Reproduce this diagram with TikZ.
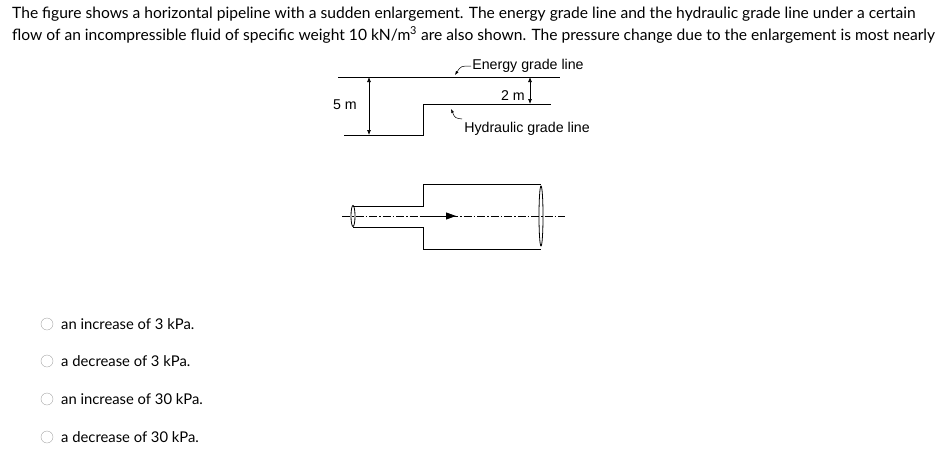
\documentclass[tikz,border=0pt]{standalone}
\usepackage{fontspec}
\setmainfont{Lato}
\newfontfamily\arialf{Liberation Sans}
\usetikzlibrary{arrows.meta}
\begin{document}
\begin{tikzpicture}[x=1pt,y=-1pt,
  qtext/.style={anchor=west,inner sep=0,font=\fontsize{15.6}{18}\selectfont},
  dtext/.style={anchor=center,inner sep=0,font=\arialf\fontsize{14.2}{16}\selectfont},
  gl/.style={line width=0.9pt},
  dim/.style={line width=0.7pt,{Latex[length=5pt,width=4pt]}-{Latex[length=5pt,width=4pt]}},
  pipe/.style={line width=0.8pt},
  radio/.style={circle,draw=gray!70,minimum size=12pt,inner sep=0}]
\useasboundingbox (0,0) rectangle (951,461);
\node[qtext] (q1) at (12,14) {The figure shows a horizontal pipeline with a sudden enlargement. The energy grade line and the hydraulic grade line under a certain};
\node[qtext] (q2) at (12,35) {flow of an incompressible fluid of specific weight 10 kN/m\textsuperscript{3} are also shown. The pressure change due to the enlargement is most nearly};
% grade lines
\coordinate (e1) at (338,77); \coordinate (e2) at (560,77);
\draw[gl] (e1) -- (e2);
\coordinate (h1) at (344,135); \coordinate (h2) at (423,135); \coordinate (h3) at (423,104); \coordinate (h4) at (551,104);
\draw[gl] (h1) -- (h2) -- (h3) -- (h4);
\coordinate (a5t) at (369,77); \coordinate (a5b) at (369,135);
\draw[dim] (a5t) -- (a5b);
\coordinate (a2t) at (530,77); \coordinate (a2b) at (530,104);
\draw[dim] (a2t) -- (a2b);
\node[dtext] (l5) at (345,105) {5 m};
\node[dtext] (l2) at (513,96) {2 m};
\node[dtext] (egl) at (528,66) {Energy grade line};
\node[dtext] (hgl) at (527,129) {Hydraulic grade line};
\coordinate (es) at (471,66);
\coordinate (ep) at (455,75);
\draw[line width=0.5pt,-{Latex[length=4pt,width=3pt]}] (es) .. controls (461,66) .. (ep);
\coordinate (hs) at (462,119);
\coordinate (hp) at (451,109);
\draw[line width=0.5pt,-{Latex[length=4pt,width=3pt]}] (hs) .. controls (455,118) .. (hp);
% pipe
\draw[pipe] (353,206) -- (423,206) -- (423,184) -- (541,184);
\draw[pipe] (353,227) -- (423,227) -- (423,249) -- (541,249);
\draw[pipe] (353,216) ellipse (2pt and 10.5pt);
\draw[pipe] (541,216) ellipse (2pt and 30pt);
\coordinate (c1) at (342,216); \coordinate (c2) at (565,216);
\draw[line width=0.5pt,dash pattern=on 8pt off 2pt on 1.5pt off 2pt] (c1) -- (c2);
\coordinate (f1) at (420,216); \coordinate (f2) at (456,216);
\draw[line width=0.9pt,-{Triangle[length=10pt,width=7pt]}] (f1) -- (f2);
% options
\foreach \y/\t [count=\i] in {324/an increase of 3 kPa., 361/a decrease of 3 kPa., 399/an increase of 30 kPa., 437/a decrease of 30 kPa.}{
  \node[radio] (r\i) at (47,\y) {};
  \node[qtext,font=\fontsize{14.8}{16}\selectfont] (o\i) at (61,\y) {\t};
}
\end{tikzpicture}
\end{document}
